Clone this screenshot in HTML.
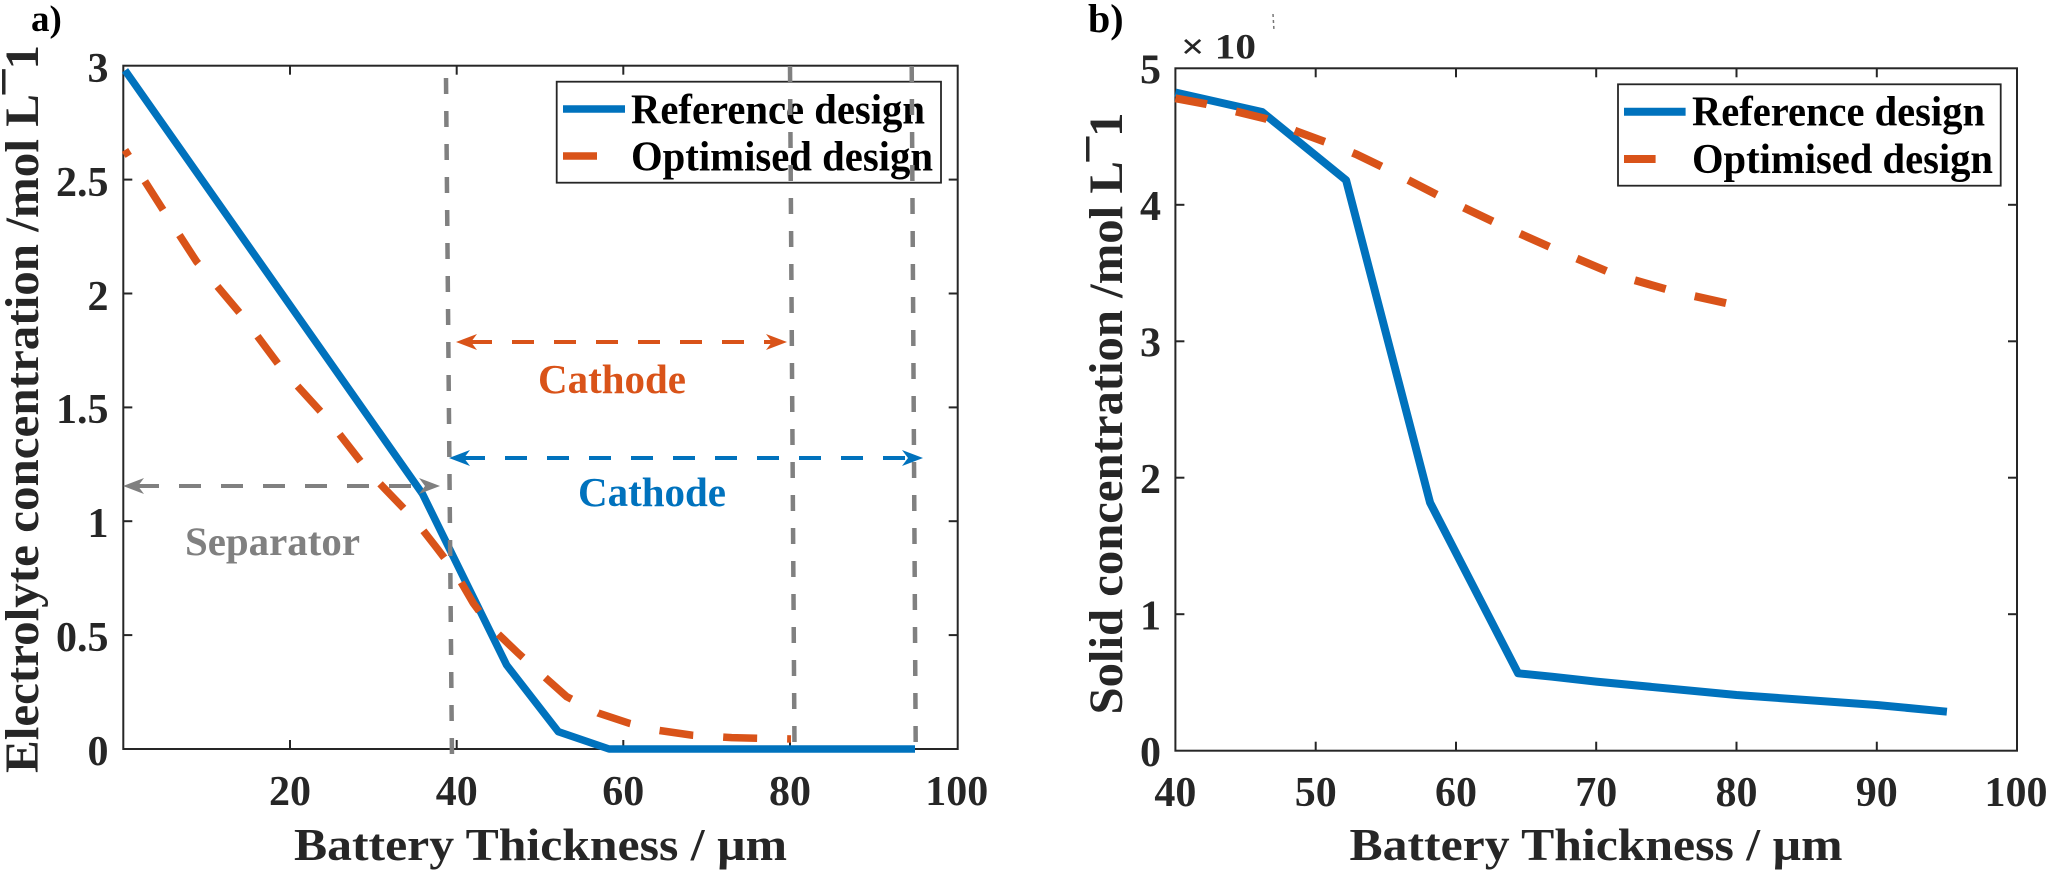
<!DOCTYPE html>
<html>
<head>
<meta charset="utf-8">
<style>
  html,body{margin:0;padding:0;background:#fff;}
  svg{display:block;}
  text{font-family:"Liberation Serif","Times New Roman",serif;font-weight:bold;}
</style>
</head>
<body>
<svg width="2052" height="875" viewBox="0 0 2052 875" xmlns="http://www.w3.org/2000/svg">
  <rect x="0" y="0" width="2052" height="875" fill="#fff"/>

  <!-- ================= PANEL A ================= -->
  <rect x="123.3" y="65.7" width="834.4" height="683.3" fill="none" stroke="#262626" stroke-width="2"/>
  <g stroke="#262626" stroke-width="2">
    <line x1="290" y1="749" x2="290" y2="740"/><line x1="290" y1="65.7" x2="290" y2="74.7"/>
    <line x1="456.7" y1="749" x2="456.7" y2="740"/><line x1="456.7" y1="65.7" x2="456.7" y2="74.7"/>
    <line x1="623.3" y1="749" x2="623.3" y2="740"/><line x1="623.3" y1="65.7" x2="623.3" y2="74.7"/>
    <line x1="790" y1="749" x2="790" y2="740"/><line x1="790" y1="65.7" x2="790" y2="74.7"/>
    <line x1="123.3" y1="635.1" x2="132.3" y2="635.1"/><line x1="957.7" y1="635.1" x2="948.7" y2="635.1"/>
    <line x1="123.3" y1="521.2" x2="132.3" y2="521.2"/><line x1="957.7" y1="521.2" x2="948.7" y2="521.2"/>
    <line x1="123.3" y1="407.4" x2="132.3" y2="407.4"/><line x1="957.7" y1="407.4" x2="948.7" y2="407.4"/>
    <line x1="123.3" y1="293.5" x2="132.3" y2="293.5"/><line x1="957.7" y1="293.5" x2="948.7" y2="293.5"/>
    <line x1="123.3" y1="179.6" x2="132.3" y2="179.6"/><line x1="957.7" y1="179.6" x2="948.7" y2="179.6"/>
  </g>
  <g fill="#262626" font-size="42" text-anchor="middle">
    <text x="290" y="805">20</text>
    <text x="456.7" y="805">40</text>
    <text x="623.3" y="805">60</text>
    <text x="790" y="805">80</text>
    <text x="956.7" y="805">100</text>
  </g>
  <g fill="#262626" font-size="42" text-anchor="end">
    <text x="108.5" y="765">0</text>
    <text x="108.5" y="651">0.5</text>
    <text x="108.5" y="537">1</text>
    <text x="108.5" y="423">1.5</text>
    <text x="108.5" y="310">2</text>
    <text x="108.5" y="196">2.5</text>
    <text x="108.5" y="82">3</text>
  </g>
  <text x="540.5" y="860" font-size="46" fill="#262626" text-anchor="middle" textLength="493" lengthAdjust="spacingAndGlyphs">Battery Thickness / µm</text>
  <text transform="translate(38,409) rotate(-90)" x="0" y="0" font-size="48" fill="#262626" text-anchor="middle" textLength="728" lengthAdjust="spacingAndGlyphs">Electrolyte concentration /mol L¯1</text>
  <text x="31" y="31" font-size="37" fill="#000">a)</text>

  <polyline fill="none" stroke="#0072BD" stroke-width="7.5" stroke-linejoin="round"
    points="125,70.3 422.5,493.9 506.6,665 558.3,731.7 609.1,749 915,749"/>
  <polyline fill="none" stroke="#D95319" stroke-width="7.5" stroke-dasharray="34 30" stroke-dashoffset="27"
    points="125,150 164.1,211.5 196.6,261.6 242.5,316.2 281.6,368.6 328.3,419.9 370,473.4 415,520.1 435.8,546.7 455,571.8 473.3,603.2 490.8,626.9 518.3,653.3 540,672.9 566.6,696.6 598.3,713 630,723.5 656.6,730.1 691.6,735.1 731.6,737.6 791,739"/>

  <rect x="556.7" y="81.7" width="384.3" height="101" fill="#fff" stroke="#262626" stroke-width="1.8"/>
  <line x1="563" y1="109" x2="625" y2="109" stroke="#0072BD" stroke-width="7.5"/>
  <line x1="563" y1="156" x2="597" y2="156" stroke="#D95319" stroke-width="7.5"/>
  <text x="631" y="123.5" font-size="42" fill="#000" textLength="294" lengthAdjust="spacingAndGlyphs">Reference design</text>
  <text x="631" y="170.5" font-size="42" fill="#000" textLength="302" lengthAdjust="spacingAndGlyphs">Optimised design</text>

  <g stroke="#808080" stroke-width="4.5" stroke-dasharray="16 17">
    <line x1="446" y1="78" x2="452" y2="760"/>
    <line x1="790" y1="66" x2="794.5" y2="747"/>
    <line x1="911.7" y1="66" x2="915.7" y2="747"/>
  </g>

  <line x1="470" y1="342" x2="773" y2="342" stroke="#D95319" stroke-width="4" stroke-dasharray="22 20"/>
  <polygon fill="#D95319" points="456,342 477,334 471,342 477,350"/>
  <polygon fill="#D95319" points="787,342 766,334 772,342 766,350"/>
  <line x1="463" y1="458" x2="909" y2="458" stroke="#0072BD" stroke-width="4" stroke-dasharray="22 20"/>
  <polygon fill="#0072BD" points="449,458 470,450 464,458 470,466"/>
  <polygon fill="#0072BD" points="923,458 902,450 908,458 902,466"/>
  <line x1="137" y1="486" x2="426" y2="486" stroke="#808080" stroke-width="4" stroke-dasharray="22 20"/>
  <polygon fill="#808080" points="123,486 144,478 138,486 144,494"/>
  <polygon fill="#808080" points="440,486 419,478 425,486 419,494"/>

  <text x="612" y="393" font-size="41" fill="#D95319" text-anchor="middle" textLength="148" lengthAdjust="spacingAndGlyphs">Cathode</text>
  <text x="652" y="506" font-size="41" fill="#0072BD" text-anchor="middle" textLength="148" lengthAdjust="spacingAndGlyphs">Cathode</text>
  <text x="185" y="555" font-size="40" fill="#808080" textLength="175" lengthAdjust="spacingAndGlyphs">Separator</text>

  <!-- ================= PANEL B ================= -->
  <rect x="1175.4" y="68.3" width="841.6" height="682.4" fill="none" stroke="#262626" stroke-width="2"/>
  <g stroke="#262626" stroke-width="2">
    <line x1="1315.7" y1="750.7" x2="1315.7" y2="741.7"/><line x1="1315.7" y1="68.3" x2="1315.7" y2="77.3"/>
    <line x1="1456" y1="750.7" x2="1456" y2="741.7"/><line x1="1456" y1="68.3" x2="1456" y2="77.3"/>
    <line x1="1596.2" y1="750.7" x2="1596.2" y2="741.7"/><line x1="1596.2" y1="68.3" x2="1596.2" y2="77.3"/>
    <line x1="1736.5" y1="750.7" x2="1736.5" y2="741.7"/><line x1="1736.5" y1="68.3" x2="1736.5" y2="77.3"/>
    <line x1="1876.8" y1="750.7" x2="1876.8" y2="741.7"/><line x1="1876.8" y1="68.3" x2="1876.8" y2="77.3"/>
    <line x1="1175.4" y1="614.2" x2="1184.4" y2="614.2"/><line x1="2017" y1="614.2" x2="2008" y2="614.2"/>
    <line x1="1175.4" y1="477.7" x2="1184.4" y2="477.7"/><line x1="2017" y1="477.7" x2="2008" y2="477.7"/>
    <line x1="1175.4" y1="341.3" x2="1184.4" y2="341.3"/><line x1="2017" y1="341.3" x2="2008" y2="341.3"/>
    <line x1="1175.4" y1="204.8" x2="1184.4" y2="204.8"/><line x1="2017" y1="204.8" x2="2008" y2="204.8"/>
  </g>
  <g fill="#262626" font-size="42" text-anchor="middle">
    <text x="1175.4" y="806">40</text>
    <text x="1315.7" y="806">50</text>
    <text x="1456" y="806">60</text>
    <text x="1596.2" y="806">70</text>
    <text x="1736.5" y="806">80</text>
    <text x="1876.8" y="806">90</text>
    <text x="2016" y="806">100</text>
  </g>
  <g fill="#262626" font-size="42" text-anchor="end">
    <text x="1161" y="766">0</text>
    <text x="1161" y="629.5">1</text>
    <text x="1161" y="493">2</text>
    <text x="1161" y="356.5">3</text>
    <text x="1161" y="220">4</text>
    <text x="1161" y="83.5">5</text>
  </g>
  <text x="1596" y="860" font-size="46" fill="#262626" text-anchor="middle" textLength="493" lengthAdjust="spacingAndGlyphs">Battery Thickness / µm</text>
  <text transform="translate(1122,413.5) rotate(-90)" x="0" y="0" font-size="48" fill="#262626" text-anchor="middle" textLength="602" lengthAdjust="spacingAndGlyphs">Solid concentration /mol L¯1</text>
  <text x="1088" y="32" font-size="40" fill="#000">b)</text>
  <text x="1181" y="58.5" font-size="36" fill="#262626" textLength="75" lengthAdjust="spacingAndGlyphs">× 10</text>
  <line x1="1273" y1="14" x2="1274" y2="31" stroke="#777" stroke-width="1.5" stroke-dasharray="3 3"/>

  <polyline fill="none" stroke="#0072BD" stroke-width="8" stroke-linejoin="round"
    points="1175.4,92.5 1262.1,112 1346.1,180.2 1430.1,502.7 1518.1,673.3 1552,676.7 1596.2,681.6 1736.5,695 1876.8,705 1946.9,711.7"/>
  <polyline fill="none" stroke="#D95319" stroke-width="8" stroke-dasharray="32 30"
    points="1175.4,98.3 1204.9,103.8 1265.9,118.8 1296,131.1 1325.5,142 1356.3,154.3 1384.4,167.9 1440.5,196.6 1498,223.9 1556.2,249.8 1614.4,274.4 1676.2,292.1 1737.9,305.8"/>

  <rect x="1618" y="84.3" width="382.7" height="101.4" fill="#fff" stroke="#262626" stroke-width="1.8"/>
  <line x1="1624" y1="111.7" x2="1685.6" y2="111.7" stroke="#0072BD" stroke-width="8"/>
  <line x1="1624" y1="159" x2="1655.6" y2="159" stroke="#D95319" stroke-width="8"/>
  <text x="1692" y="125.5" font-size="42" fill="#000" textLength="293" lengthAdjust="spacingAndGlyphs">Reference design</text>
  <text x="1692" y="173" font-size="42" fill="#000" textLength="301" lengthAdjust="spacingAndGlyphs">Optimised design</text>
</svg>
</body>
</html>
